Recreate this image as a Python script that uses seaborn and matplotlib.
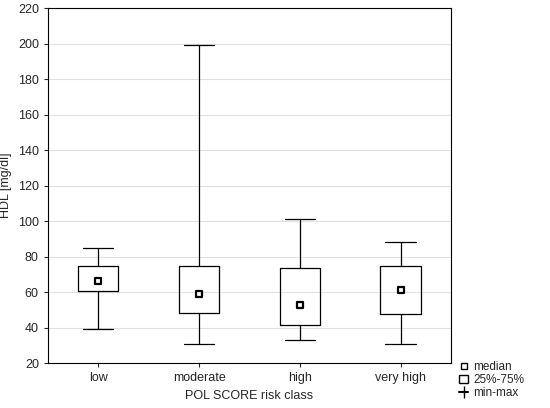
import matplotlib
matplotlib.use("Agg")
import matplotlib.pyplot as plt
import seaborn as sns
from matplotlib.lines import Line2D
from matplotlib.patches import Rectangle

# values
classes = ["low", "moderate", "high", "very high"]
mins = [39, 31, 33, 31]
q1s = [60.5, 48.5, 41.5, 47.5]
medians = [66, 59, 53, 61]
q3s = [75, 75, 73.5, 75]
maxs = [85, 199, 101, 88]

sns.set_style("white")
plt.rcParams["font.family"] = ["Liberation Sans", "DejaVu Sans"]

fig = plt.figure(figsize=(5.5, 4.08), dpi=100)
ax = fig.add_axes([0.087, 0.11, 0.733, 0.87])

stats = [dict(whislo=lo, q1=a, med=m, q3=b, whishi=hi, label=c)
         for c, lo, a, m, b, hi in zip(classes, mins, q1s, medians, q3s, maxs)]
ax.bxp(stats, positions=range(len(classes)), widths=0.4, showfliers=False,
       boxprops=dict(color="black", linewidth=0.9),
       whiskerprops=dict(color="black", linewidth=0.9),
       capprops=dict(color="black", linewidth=0.9),
       medianprops=dict(linewidth=0), capwidths=0.3)
sns.scatterplot(x=list(range(len(classes))), y=medians, marker="s", s=25,
                facecolor="white", edgecolor="black", linewidth=1.6, ax=ax, zorder=5)

ax.set_xlim(-0.5, 3.5)
ax.set_ylim(20, 220)
ax.set_yticks(range(20, 221, 20))
ax.set_xticks(range(len(classes)))
ax.set_xticklabels(classes)
ax.yaxis.grid(True, color="#e0e0e0", linewidth=0.8)
ax.set_axisbelow(True)
for s in ax.spines.values():
    s.set_color("black")
    s.set_linewidth(0.8)
ax.tick_params(labelsize=9, length=3, direction="out", left=True, bottom=True)
ax.set_xlabel("POL SCORE risk class", fontsize=9)
ax.set_ylabel("HDL [mg/dl]", fontsize=9)

handles = [
    Line2D([], [], marker="s", linestyle="none", markerfacecolor="white",
           markeredgecolor="black", markersize=4),
    Rectangle((0, 0), 1, 1, facecolor="white", edgecolor="black"),
    Line2D([], [], marker="|", linestyle="-", color="black", markersize=8),
]
fig.legend(handles, ["median", "25%-75%", "min-max"], loc="lower left",
           bbox_to_anchor=(0.815, -0.005), frameon=False, fontsize=8.5,
           handlelength=0.8, handletextpad=0.4, labelspacing=0.1)

fig.savefig("out.png", dpi=100)
